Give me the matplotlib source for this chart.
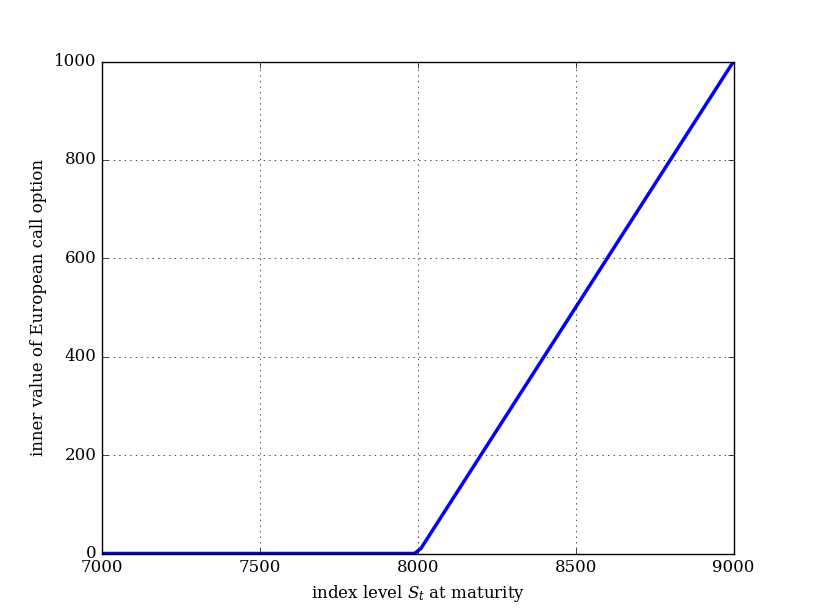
import matplotlib
matplotlib.use('Agg')
import matplotlib.pyplot as plt

# index level at maturity and inner value of the call (strike 8000)
index_level = [7000, 7989.9, 8010.1, 9000]
inner_value = [0, 0, 10.1, 1000]


def main():
    plt.style.use('classic')
    plt.rcParams['font.family'] = 'serif'
    plt.rcParams['mathtext.fontset'] = 'dejavuserif'

    plt.figure(figsize=(8.15, 6.15), dpi=100)
    plt.plot(index_level, inner_value, 'b', lw=2.5)
    plt.grid(True)
    plt.xlabel('index level $S_t$ at maturity')
    plt.ylabel('inner value of European call option')
    plt.xlim(7000, 9000)
    plt.ylim(0, 1000)
    plt.savefig('out.png', dpi=100, facecolor='white')


if __name__ == '__main__':
    main()
